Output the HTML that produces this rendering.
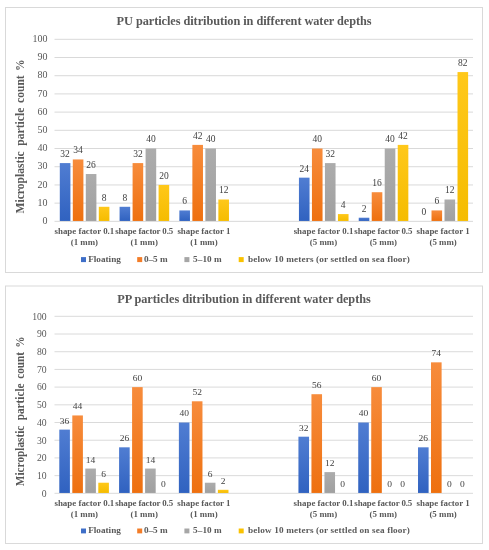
<!DOCTYPE html>
<html><head><meta charset="utf-8"><style>
html,body{margin:0;padding:0;background:#fff;width:489px;height:550px;overflow:hidden}
svg{display:block;will-change:transform}
</style></head><body>
<svg width="489" height="550" viewBox="0 0 489 550">
<defs>
<linearGradient id="g0" x1="0" y1="0" x2="0" y2="1"><stop offset="0" stop-color="#507DD2"/><stop offset="1" stop-color="#3062C0"/></linearGradient>
<linearGradient id="g1" x1="0" y1="0" x2="0" y2="1"><stop offset="0" stop-color="#F78C3C"/><stop offset="1" stop-color="#EE700F"/></linearGradient>
<linearGradient id="g2" x1="0" y1="0" x2="0" y2="1"><stop offset="0" stop-color="#ACACAC"/><stop offset="1" stop-color="#A0A0A0"/></linearGradient>
<linearGradient id="g3" x1="0" y1="0" x2="0" y2="1"><stop offset="0" stop-color="#FFC81A"/><stop offset="1" stop-color="#F5BC00"/></linearGradient>
</defs>
<rect width="489" height="550" fill="#fff"/>
<rect x="5.5" y="7.5" width="477.0" height="265.0" fill="#fff" stroke="#d9d9d9" stroke-width="1"/>
<text x="116.6" y="25.35" font-family="'Liberation Serif', serif" font-weight="bold" font-size="12.3" fill="#595959" textLength="255.0" lengthAdjust="spacing">PU particles ditribution in different water depths</text>
<line x1="54.5" y1="221.35" x2="473" y2="221.35" stroke="#d9d9d9" stroke-width="1"/>
<text x="47.5" y="224.10" font-family="'Liberation Serif', serif" font-size="10" fill="#595959" text-anchor="end">0</text>
<line x1="54.5" y1="203.14" x2="473" y2="203.14" stroke="#d9d9d9" stroke-width="1"/>
<text x="47.5" y="205.89" font-family="'Liberation Serif', serif" font-size="10" fill="#595959" text-anchor="end">10</text>
<line x1="54.5" y1="184.94" x2="473" y2="184.94" stroke="#d9d9d9" stroke-width="1"/>
<text x="47.5" y="187.69" font-family="'Liberation Serif', serif" font-size="10" fill="#595959" text-anchor="end">20</text>
<line x1="54.5" y1="166.73" x2="473" y2="166.73" stroke="#d9d9d9" stroke-width="1"/>
<text x="47.5" y="169.48" font-family="'Liberation Serif', serif" font-size="10" fill="#595959" text-anchor="end">30</text>
<line x1="54.5" y1="148.53" x2="473" y2="148.53" stroke="#d9d9d9" stroke-width="1"/>
<text x="47.5" y="151.28" font-family="'Liberation Serif', serif" font-size="10" fill="#595959" text-anchor="end">40</text>
<line x1="54.5" y1="130.32" x2="473" y2="130.32" stroke="#d9d9d9" stroke-width="1"/>
<text x="47.5" y="133.07" font-family="'Liberation Serif', serif" font-size="10" fill="#595959" text-anchor="end">50</text>
<line x1="54.5" y1="112.12" x2="473" y2="112.12" stroke="#d9d9d9" stroke-width="1"/>
<text x="47.5" y="114.87" font-family="'Liberation Serif', serif" font-size="10" fill="#595959" text-anchor="end">60</text>
<line x1="54.5" y1="93.91" x2="473" y2="93.91" stroke="#d9d9d9" stroke-width="1"/>
<text x="47.5" y="96.66" font-family="'Liberation Serif', serif" font-size="10" fill="#595959" text-anchor="end">70</text>
<line x1="54.5" y1="75.71" x2="473" y2="75.71" stroke="#d9d9d9" stroke-width="1"/>
<text x="47.5" y="78.46" font-family="'Liberation Serif', serif" font-size="10" fill="#595959" text-anchor="end">80</text>
<line x1="54.5" y1="57.50" x2="473" y2="57.50" stroke="#d9d9d9" stroke-width="1"/>
<text x="47.5" y="60.25" font-family="'Liberation Serif', serif" font-size="10" fill="#595959" text-anchor="end">90</text>
<line x1="54.5" y1="39.30" x2="473" y2="39.30" stroke="#d9d9d9" stroke-width="1"/>
<text x="47.5" y="42.05" font-family="'Liberation Serif', serif" font-size="10" fill="#595959" text-anchor="end">100</text>
<rect x="59.80" y="163.09" width="10.6" height="57.86" fill="url(#g0)"/>
<text x="65.10" y="156.99" font-family="'Liberation Serif', serif" font-size="9.5" fill="#404040" text-anchor="middle">32</text>
<rect x="72.80" y="159.45" width="10.6" height="61.50" fill="url(#g1)"/>
<text x="78.10" y="153.35" font-family="'Liberation Serif', serif" font-size="9.5" fill="#404040" text-anchor="middle">34</text>
<rect x="85.80" y="174.02" width="10.6" height="46.93" fill="url(#g2)"/>
<text x="91.10" y="167.92" font-family="'Liberation Serif', serif" font-size="9.5" fill="#404040" text-anchor="middle">26</text>
<rect x="98.80" y="206.79" width="10.6" height="14.16" fill="url(#g3)"/>
<text x="104.10" y="200.69" font-family="'Liberation Serif', serif" font-size="9.5" fill="#404040" text-anchor="middle">8</text>
<text x="84.39" y="234.4" font-family="'Liberation Serif', serif" font-weight="bold" font-size="8.9" fill="#595959" text-anchor="middle">shape factor 0.1</text>
<text x="84.39" y="244.9" font-family="'Liberation Serif', serif" font-weight="bold" font-size="8.9" fill="#595959" text-anchor="middle">(1 mm)</text>
<rect x="119.59" y="206.79" width="10.6" height="14.16" fill="url(#g0)"/>
<text x="124.89" y="200.69" font-family="'Liberation Serif', serif" font-size="9.5" fill="#404040" text-anchor="middle">8</text>
<rect x="132.59" y="163.09" width="10.6" height="57.86" fill="url(#g1)"/>
<text x="137.89" y="156.99" font-family="'Liberation Serif', serif" font-size="9.5" fill="#404040" text-anchor="middle">32</text>
<rect x="145.59" y="148.53" width="10.6" height="72.42" fill="url(#g2)"/>
<text x="150.89" y="142.43" font-family="'Liberation Serif', serif" font-size="9.5" fill="#404040" text-anchor="middle">40</text>
<rect x="158.59" y="184.94" width="10.6" height="36.01" fill="url(#g3)"/>
<text x="163.89" y="178.84" font-family="'Liberation Serif', serif" font-size="9.5" fill="#404040" text-anchor="middle">20</text>
<text x="144.18" y="234.4" font-family="'Liberation Serif', serif" font-weight="bold" font-size="8.9" fill="#595959" text-anchor="middle" textLength="58.0" lengthAdjust="spacing">shape factor 0.5</text>
<text x="144.18" y="244.9" font-family="'Liberation Serif', serif" font-weight="bold" font-size="8.9" fill="#595959" text-anchor="middle">(1 mm)</text>
<rect x="179.37" y="210.43" width="10.6" height="10.52" fill="url(#g0)"/>
<text x="184.67" y="204.33" font-family="'Liberation Serif', serif" font-size="9.5" fill="#404040" text-anchor="middle">6</text>
<rect x="192.37" y="144.89" width="10.6" height="76.06" fill="url(#g1)"/>
<text x="197.67" y="138.79" font-family="'Liberation Serif', serif" font-size="9.5" fill="#404040" text-anchor="middle">42</text>
<rect x="205.37" y="148.53" width="10.6" height="72.42" fill="url(#g2)"/>
<text x="210.67" y="142.43" font-family="'Liberation Serif', serif" font-size="9.5" fill="#404040" text-anchor="middle">40</text>
<rect x="218.37" y="199.50" width="10.6" height="21.45" fill="url(#g3)"/>
<text x="223.67" y="193.40" font-family="'Liberation Serif', serif" font-size="9.5" fill="#404040" text-anchor="middle">12</text>
<text x="203.96" y="234.4" font-family="'Liberation Serif', serif" font-weight="bold" font-size="8.9" fill="#595959" text-anchor="middle">shape factor 1</text>
<text x="203.96" y="244.9" font-family="'Liberation Serif', serif" font-weight="bold" font-size="8.9" fill="#595959" text-anchor="middle">(1 mm)</text>
<rect x="298.94" y="177.66" width="10.6" height="43.29" fill="url(#g0)"/>
<text x="304.24" y="171.56" font-family="'Liberation Serif', serif" font-size="9.5" fill="#404040" text-anchor="middle">24</text>
<rect x="311.94" y="148.53" width="10.6" height="72.42" fill="url(#g1)"/>
<text x="317.24" y="142.43" font-family="'Liberation Serif', serif" font-size="9.5" fill="#404040" text-anchor="middle">40</text>
<rect x="324.94" y="163.09" width="10.6" height="57.86" fill="url(#g2)"/>
<text x="330.24" y="156.99" font-family="'Liberation Serif', serif" font-size="9.5" fill="#404040" text-anchor="middle">32</text>
<rect x="337.94" y="214.07" width="10.6" height="6.88" fill="url(#g3)"/>
<text x="343.24" y="207.97" font-family="'Liberation Serif', serif" font-size="9.5" fill="#404040" text-anchor="middle">4</text>
<text x="323.54" y="234.4" font-family="'Liberation Serif', serif" font-weight="bold" font-size="8.9" fill="#595959" text-anchor="middle">shape factor 0.1</text>
<text x="323.54" y="244.9" font-family="'Liberation Serif', serif" font-weight="bold" font-size="8.9" fill="#595959" text-anchor="middle">(5 mm)</text>
<rect x="358.73" y="217.71" width="10.6" height="3.24" fill="url(#g0)"/>
<text x="364.03" y="211.61" font-family="'Liberation Serif', serif" font-size="9.5" fill="#404040" text-anchor="middle">2</text>
<rect x="371.73" y="192.22" width="10.6" height="28.73" fill="url(#g1)"/>
<text x="377.03" y="186.12" font-family="'Liberation Serif', serif" font-size="9.5" fill="#404040" text-anchor="middle">16</text>
<rect x="384.73" y="148.53" width="10.6" height="72.42" fill="url(#g2)"/>
<text x="390.03" y="142.43" font-family="'Liberation Serif', serif" font-size="9.5" fill="#404040" text-anchor="middle">40</text>
<rect x="397.73" y="144.89" width="10.6" height="76.06" fill="url(#g3)"/>
<text x="403.03" y="138.79" font-family="'Liberation Serif', serif" font-size="9.5" fill="#404040" text-anchor="middle">42</text>
<text x="383.32" y="234.4" font-family="'Liberation Serif', serif" font-weight="bold" font-size="8.9" fill="#595959" text-anchor="middle" textLength="58.0" lengthAdjust="spacing">shape factor 0.5</text>
<text x="383.32" y="244.9" font-family="'Liberation Serif', serif" font-weight="bold" font-size="8.9" fill="#595959" text-anchor="middle">(5 mm)</text>
<text x="423.81" y="215.25" font-family="'Liberation Serif', serif" font-size="9.5" fill="#404040" text-anchor="middle">0</text>
<rect x="431.51" y="210.43" width="10.6" height="10.52" fill="url(#g1)"/>
<text x="436.81" y="204.33" font-family="'Liberation Serif', serif" font-size="9.5" fill="#404040" text-anchor="middle">6</text>
<rect x="444.51" y="199.50" width="10.6" height="21.45" fill="url(#g2)"/>
<text x="449.81" y="193.40" font-family="'Liberation Serif', serif" font-size="9.5" fill="#404040" text-anchor="middle">12</text>
<rect x="457.51" y="72.07" width="10.6" height="148.88" fill="url(#g3)"/>
<text x="462.81" y="65.97" font-family="'Liberation Serif', serif" font-size="9.5" fill="#404040" text-anchor="middle">82</text>
<text x="443.11" y="234.4" font-family="'Liberation Serif', serif" font-weight="bold" font-size="8.9" fill="#595959" text-anchor="middle">shape factor 1</text>
<text x="443.11" y="244.9" font-family="'Liberation Serif', serif" font-weight="bold" font-size="8.9" fill="#595959" text-anchor="middle">(5 mm)</text>
<text transform="translate(23.5,213.5) rotate(-90)" font-family="'Liberation Serif', serif" font-weight="bold" font-size="11.6" fill="#595959">Microplastic</text>
<text transform="translate(23.5,145.7) rotate(-90)" font-family="'Liberation Serif', serif" font-weight="bold" font-size="11.6" fill="#595959">particle</text>
<text transform="translate(23.5,103.0) rotate(-90)" font-family="'Liberation Serif', serif" font-weight="bold" font-size="11.6" fill="#595959">count</text>
<text transform="translate(23.5,71.0) rotate(-90)" font-family="'Liberation Serif', serif" font-weight="bold" font-size="11.6" fill="#595959">%</text>
<rect x="81" y="257.1" width="5" height="5" fill="#3F6FC8"/>
<text x="88.2" y="262.1" font-family="'Liberation Serif', serif" font-weight="bold" font-size="9.2" fill="#595959">Floating</text>
<rect x="137.2" y="257.1" width="5" height="5" fill="#F37D28"/>
<text x="143.9" y="262.1" font-family="'Liberation Serif', serif" font-weight="bold" font-size="9.2" fill="#595959">0–5 m</text>
<rect x="184.4" y="257.1" width="5" height="5" fill="#A6A6A6"/>
<text x="193.1" y="262.1" font-family="'Liberation Serif', serif" font-weight="bold" font-size="9.2" fill="#595959" textLength="28.6" lengthAdjust="spacing">5–10 m</text>
<rect x="238.7" y="257.1" width="5" height="5" fill="#FAC200"/>
<text x="248.1" y="262.1" font-family="'Liberation Serif', serif" font-weight="bold" font-size="9.2" fill="#595959" textLength="161.8" lengthAdjust="spacing">below 10 meters (or settled on sea floor)</text>
<g transform="translate(0,278.713) scale(1,0.9716)">
<rect x="5.5" y="7.5" width="477.0" height="265.0" fill="#fff" stroke="#d9d9d9" stroke-width="1"/>
<text x="117.2" y="25.15" font-family="'Liberation Serif', serif" font-weight="bold" font-size="12.3" fill="#595959" textLength="253.6" lengthAdjust="spacing">PP particles ditribution in different water depths</text>
<line x1="54.5" y1="220.90" x2="473" y2="220.90" stroke="#d9d9d9" stroke-width="1"/>
<text x="46.7" y="224.30" font-family="'Liberation Serif', serif" font-size="9.7" fill="#595959" text-anchor="end">0</text>
<line x1="54.5" y1="202.68" x2="473" y2="202.68" stroke="#d9d9d9" stroke-width="1"/>
<text x="46.7" y="206.08" font-family="'Liberation Serif', serif" font-size="9.7" fill="#595959" text-anchor="end">10</text>
<line x1="54.5" y1="184.46" x2="473" y2="184.46" stroke="#d9d9d9" stroke-width="1"/>
<text x="46.7" y="187.86" font-family="'Liberation Serif', serif" font-size="9.7" fill="#595959" text-anchor="end">20</text>
<line x1="54.5" y1="166.24" x2="473" y2="166.24" stroke="#d9d9d9" stroke-width="1"/>
<text x="46.7" y="169.64" font-family="'Liberation Serif', serif" font-size="9.7" fill="#595959" text-anchor="end">30</text>
<line x1="54.5" y1="148.02" x2="473" y2="148.02" stroke="#d9d9d9" stroke-width="1"/>
<text x="46.7" y="151.42" font-family="'Liberation Serif', serif" font-size="9.7" fill="#595959" text-anchor="end">40</text>
<line x1="54.5" y1="129.80" x2="473" y2="129.80" stroke="#d9d9d9" stroke-width="1"/>
<text x="46.7" y="133.20" font-family="'Liberation Serif', serif" font-size="9.7" fill="#595959" text-anchor="end">50</text>
<line x1="54.5" y1="111.58" x2="473" y2="111.58" stroke="#d9d9d9" stroke-width="1"/>
<text x="46.7" y="114.98" font-family="'Liberation Serif', serif" font-size="9.7" fill="#595959" text-anchor="end">60</text>
<line x1="54.5" y1="93.36" x2="473" y2="93.36" stroke="#d9d9d9" stroke-width="1"/>
<text x="46.7" y="96.76" font-family="'Liberation Serif', serif" font-size="9.7" fill="#595959" text-anchor="end">70</text>
<line x1="54.5" y1="75.14" x2="473" y2="75.14" stroke="#d9d9d9" stroke-width="1"/>
<text x="46.7" y="78.54" font-family="'Liberation Serif', serif" font-size="9.7" fill="#595959" text-anchor="end">80</text>
<line x1="54.5" y1="56.92" x2="473" y2="56.92" stroke="#d9d9d9" stroke-width="1"/>
<text x="46.7" y="60.32" font-family="'Liberation Serif', serif" font-size="9.7" fill="#595959" text-anchor="end">90</text>
<line x1="54.5" y1="38.70" x2="473" y2="38.70" stroke="#d9d9d9" stroke-width="1"/>
<text x="46.7" y="42.10" font-family="'Liberation Serif', serif" font-size="9.7" fill="#595959" text-anchor="end">100</text>
<rect x="59.30" y="155.31" width="10.6" height="65.19" fill="url(#g0)"/>
<text x="64.60" y="149.11" font-family="'Liberation Serif', serif" font-size="9.5" fill="#404040" text-anchor="middle">36</text>
<rect x="72.30" y="140.73" width="10.6" height="79.77" fill="url(#g1)"/>
<text x="77.60" y="134.53" font-family="'Liberation Serif', serif" font-size="9.5" fill="#404040" text-anchor="middle">44</text>
<rect x="85.30" y="195.39" width="10.6" height="25.11" fill="url(#g2)"/>
<text x="90.60" y="189.19" font-family="'Liberation Serif', serif" font-size="9.5" fill="#404040" text-anchor="middle">14</text>
<rect x="98.30" y="209.97" width="10.6" height="10.53" fill="url(#g3)"/>
<text x="103.60" y="203.77" font-family="'Liberation Serif', serif" font-size="9.5" fill="#404040" text-anchor="middle">6</text>
<text x="84.39" y="234.4" font-family="'Liberation Serif', serif" font-weight="bold" font-size="8.9" fill="#595959" text-anchor="middle">shape factor 0.1</text>
<text x="84.39" y="244.9" font-family="'Liberation Serif', serif" font-weight="bold" font-size="8.9" fill="#595959" text-anchor="middle">(1 mm)</text>
<rect x="119.09" y="173.53" width="10.6" height="46.97" fill="url(#g0)"/>
<text x="124.39" y="167.33" font-family="'Liberation Serif', serif" font-size="9.5" fill="#404040" text-anchor="middle">26</text>
<rect x="132.09" y="111.58" width="10.6" height="108.92" fill="url(#g1)"/>
<text x="137.39" y="105.38" font-family="'Liberation Serif', serif" font-size="9.5" fill="#404040" text-anchor="middle">60</text>
<rect x="145.09" y="195.39" width="10.6" height="25.11" fill="url(#g2)"/>
<text x="150.39" y="189.19" font-family="'Liberation Serif', serif" font-size="9.5" fill="#404040" text-anchor="middle">14</text>
<text x="163.39" y="214.70" font-family="'Liberation Serif', serif" font-size="9.5" fill="#404040" text-anchor="middle">0</text>
<text x="144.18" y="234.4" font-family="'Liberation Serif', serif" font-weight="bold" font-size="8.9" fill="#595959" text-anchor="middle" textLength="58.0" lengthAdjust="spacing">shape factor 0.5</text>
<text x="144.18" y="244.9" font-family="'Liberation Serif', serif" font-weight="bold" font-size="8.9" fill="#595959" text-anchor="middle">(1 mm)</text>
<rect x="178.87" y="148.02" width="10.6" height="72.48" fill="url(#g0)"/>
<text x="184.17" y="141.82" font-family="'Liberation Serif', serif" font-size="9.5" fill="#404040" text-anchor="middle">40</text>
<rect x="191.87" y="126.16" width="10.6" height="94.34" fill="url(#g1)"/>
<text x="197.17" y="119.96" font-family="'Liberation Serif', serif" font-size="9.5" fill="#404040" text-anchor="middle">52</text>
<rect x="204.87" y="209.97" width="10.6" height="10.53" fill="url(#g2)"/>
<text x="210.17" y="203.77" font-family="'Liberation Serif', serif" font-size="9.5" fill="#404040" text-anchor="middle">6</text>
<rect x="217.87" y="217.26" width="10.6" height="3.24" fill="url(#g3)"/>
<text x="223.17" y="211.06" font-family="'Liberation Serif', serif" font-size="9.5" fill="#404040" text-anchor="middle">2</text>
<text x="203.96" y="234.4" font-family="'Liberation Serif', serif" font-weight="bold" font-size="8.9" fill="#595959" text-anchor="middle">shape factor 1</text>
<text x="203.96" y="244.9" font-family="'Liberation Serif', serif" font-weight="bold" font-size="8.9" fill="#595959" text-anchor="middle">(1 mm)</text>
<rect x="298.44" y="162.60" width="10.6" height="57.90" fill="url(#g0)"/>
<text x="303.74" y="156.40" font-family="'Liberation Serif', serif" font-size="9.5" fill="#404040" text-anchor="middle">32</text>
<rect x="311.44" y="118.87" width="10.6" height="101.63" fill="url(#g1)"/>
<text x="316.74" y="112.67" font-family="'Liberation Serif', serif" font-size="9.5" fill="#404040" text-anchor="middle">56</text>
<rect x="324.44" y="199.04" width="10.6" height="21.46" fill="url(#g2)"/>
<text x="329.74" y="192.84" font-family="'Liberation Serif', serif" font-size="9.5" fill="#404040" text-anchor="middle">12</text>
<text x="342.74" y="214.70" font-family="'Liberation Serif', serif" font-size="9.5" fill="#404040" text-anchor="middle">0</text>
<text x="323.54" y="234.4" font-family="'Liberation Serif', serif" font-weight="bold" font-size="8.9" fill="#595959" text-anchor="middle">shape factor 0.1</text>
<text x="323.54" y="244.9" font-family="'Liberation Serif', serif" font-weight="bold" font-size="8.9" fill="#595959" text-anchor="middle">(5 mm)</text>
<rect x="358.23" y="148.02" width="10.6" height="72.48" fill="url(#g0)"/>
<text x="363.53" y="141.82" font-family="'Liberation Serif', serif" font-size="9.5" fill="#404040" text-anchor="middle">40</text>
<rect x="371.23" y="111.58" width="10.6" height="108.92" fill="url(#g1)"/>
<text x="376.53" y="105.38" font-family="'Liberation Serif', serif" font-size="9.5" fill="#404040" text-anchor="middle">60</text>
<text x="389.53" y="214.70" font-family="'Liberation Serif', serif" font-size="9.5" fill="#404040" text-anchor="middle">0</text>
<text x="402.53" y="214.70" font-family="'Liberation Serif', serif" font-size="9.5" fill="#404040" text-anchor="middle">0</text>
<text x="383.32" y="234.4" font-family="'Liberation Serif', serif" font-weight="bold" font-size="8.9" fill="#595959" text-anchor="middle" textLength="58.0" lengthAdjust="spacing">shape factor 0.5</text>
<text x="383.32" y="244.9" font-family="'Liberation Serif', serif" font-weight="bold" font-size="8.9" fill="#595959" text-anchor="middle">(5 mm)</text>
<rect x="418.01" y="173.53" width="10.6" height="46.97" fill="url(#g0)"/>
<text x="423.31" y="167.33" font-family="'Liberation Serif', serif" font-size="9.5" fill="#404040" text-anchor="middle">26</text>
<rect x="431.01" y="86.07" width="10.6" height="134.43" fill="url(#g1)"/>
<text x="436.31" y="79.87" font-family="'Liberation Serif', serif" font-size="9.5" fill="#404040" text-anchor="middle">74</text>
<text x="449.31" y="214.70" font-family="'Liberation Serif', serif" font-size="9.5" fill="#404040" text-anchor="middle">0</text>
<text x="462.31" y="214.70" font-family="'Liberation Serif', serif" font-size="9.5" fill="#404040" text-anchor="middle">0</text>
<text x="443.11" y="234.4" font-family="'Liberation Serif', serif" font-weight="bold" font-size="8.9" fill="#595959" text-anchor="middle">shape factor 1</text>
<text x="443.11" y="244.9" font-family="'Liberation Serif', serif" font-weight="bold" font-size="8.9" fill="#595959" text-anchor="middle">(5 mm)</text>
<text transform="translate(23.5,213.5) rotate(-90)" font-family="'Liberation Serif', serif" font-weight="bold" font-size="11.6" fill="#595959">Microplastic</text>
<text transform="translate(23.5,145.7) rotate(-90)" font-family="'Liberation Serif', serif" font-weight="bold" font-size="11.6" fill="#595959">particle</text>
<text transform="translate(23.5,103.0) rotate(-90)" font-family="'Liberation Serif', serif" font-weight="bold" font-size="11.6" fill="#595959">count</text>
<text transform="translate(23.5,71.0) rotate(-90)" font-family="'Liberation Serif', serif" font-weight="bold" font-size="11.6" fill="#595959">%</text>
<rect x="81" y="257.1" width="5" height="5" fill="#3F6FC8"/>
<text x="88.2" y="262.1" font-family="'Liberation Serif', serif" font-weight="bold" font-size="9.2" fill="#595959">Floating</text>
<rect x="137.2" y="257.1" width="5" height="5" fill="#F37D28"/>
<text x="143.9" y="262.1" font-family="'Liberation Serif', serif" font-weight="bold" font-size="9.2" fill="#595959">0–5 m</text>
<rect x="184.4" y="257.1" width="5" height="5" fill="#A6A6A6"/>
<text x="193.1" y="262.1" font-family="'Liberation Serif', serif" font-weight="bold" font-size="9.2" fill="#595959" textLength="28.6" lengthAdjust="spacing">5–10 m</text>
<rect x="238.7" y="257.1" width="5" height="5" fill="#FAC200"/>
<text x="248.1" y="262.1" font-family="'Liberation Serif', serif" font-weight="bold" font-size="9.2" fill="#595959" textLength="161.8" lengthAdjust="spacing">below 10 meters (or settled on sea floor)</text>
</g>
</svg>
</body></html>
